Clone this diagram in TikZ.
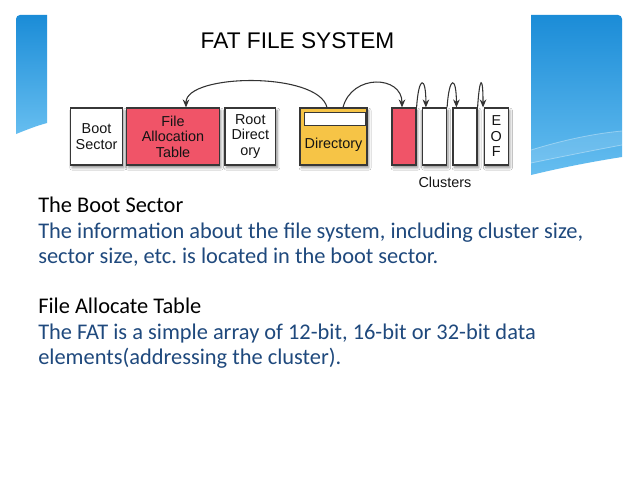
\documentclass[tikz,border=0pt]{standalone}
\usepackage{fontspec}
\setmainfont{Carlito}
\newfontfamily\diagfont{Liberation Sans}
\usepackage{xcolor}
\usetikzlibrary{arrows.meta,calc,shadows.blur}
\definecolor{slideblue}{RGB}{27,140,215}
\definecolor{slidelight}{RGB}{102,190,240}
\definecolor{fatred}{RGB}{240,84,104}
\definecolor{diryellow}{RGB}{246,196,70}
\definecolor{boxline}{RGB}{55,55,55}
\definecolor{textblue}{RGB}{31,73,125}

\begin{document}
\begin{tikzpicture}[x=0.75pt,y=-0.75pt,
  block/.style={draw=boxline,line width=0.9pt,fill=white,minimum height=42.75pt,inner sep=0pt,align=center,
    font=\diagfont\fontsize{10.8}{11.6}\selectfont,text=black!92,
    blur shadow={shadow xshift=1.2pt,shadow yshift=-2pt,shadow opacity=45,shadow blur steps=6}},
  tag/.style={font=\diagfont\fontsize{10.8}{11.6}\selectfont,text=black!92,inner sep=0pt},
  link/.style={draw=black!80,line width=0.8pt,-{Stealth[length=6pt,width=5pt]}},
  body/.style={anchor=base west,inner sep=0pt,font=\fontsize{16.8}{20}\selectfont}]
\useasboundingbox (0,0) rectangle (638,478);
\fill[white] (0,0) rectangle (638,478);
% slide corners
\shade[top color=slideblue,bottom color=slidelight] (16,134) -- (16,19) arc[start angle=180,end angle=90,radius=3pt] -- (47,15) -- (47,123) .. controls (36,126) and (26,130) .. cycle;
\shade[top color=slideblue,bottom color=slidelight] (531,175) -- (531,15) -- (618,15) arc[start angle=90,end angle=0,radius=3pt] -- (622,157) .. controls (590,162) and (560,168) .. cycle;
\fill[white,opacity=.12] (531,150) .. controls (570,138) and (600,133) .. (622,131) -- (622,145) .. controls (595,150) and (565,156) .. (531,163) -- cycle;
\draw[white,opacity=.35,line width=0.6pt] (531,150) .. controls (570,138) and (600,133) .. (622,131);
\draw[white,opacity=.35,line width=0.6pt] (531,163) .. controls (565,156) and (595,150) .. (622,145);
% diagram
\node[font=\diagfont\fontsize{17}{18}\selectfont,anchor=base] (title) at (297.5,48.3) {FAT FILE SYSTEM};
\node[block,minimum width=38.7pt] (boot) at (96.5,136.5) {Boot\\Sector};
\node[block,fill=fatred,minimum width=69.5pt] (fat) at (173,136.5) {File\\Allocation\\Table};
\node[block,minimum width=38pt] (root) at (250.3,136.5) {Root\\Direct\\ory};
\node[block,fill=diryellow,minimum width=50.25pt] (dir) at (333.5,136.5) {};
\node[draw=boxline,line width=0.8pt,fill=white,minimum width=45.2pt,minimum height=10.3pt,inner sep=0pt] (slot) at (334.9,118.9) {};
\node[tag] (dirtext) at (333.5,145) {Directory};
\foreach \n/\x/\c in {c1/404/fatred,c2/434.5/white,c3/465/white}
  \node[block,fill=\c,minimum width=18pt] (\n) at (\x,136.5) {};
\node[block,minimum width=18pt] (eof) at (496.3,136.5) {E\\O\\F};
\node[tag] (clusters) at (445,182.7) {Clusters};
\draw[link] ($(dir.north)+(-6.5,0)$) .. controls +(-9,-36) and +(0,-34) .. ($(fat.north)+(13,0)$);
\draw[link] ($(dir.north)+(9.5,0)$) .. controls +(9,-34) and +(0,-32) .. ($(c1.north)+(-2,0)$);
\foreach \a/\b/\d in {c1/c2/3pt,c2/c3/3pt,c3/eof/-0.5pt}
  \draw[link] (\a.north east) .. controls +(2,-32) and +(0,-32) .. ([xshift=\d]\b.north west);
% text
\node[body] (boothead) at (38,212) {The Boot Sector};
\node[body,text=textblue] (bootinfo1) at (38,238.5) {The information about the file system, including cluster size,};
\node[body,text=textblue] (bootinfo2) at (38,263.5) {sector size, etc.\ is located in the boot sector.};
\node[body] (fathead) at (38,313) {File Allocate Table};
\node[body,text=textblue] (fatinfo1) at (38,339.5) {The FAT is a simple array of 12-bit, 16-bit or 32-bit data};
\node[body,text=textblue] (fatinfo2) at (38,364.5) {elements(addressing the cluster).};
\end{tikzpicture}
\end{document}
